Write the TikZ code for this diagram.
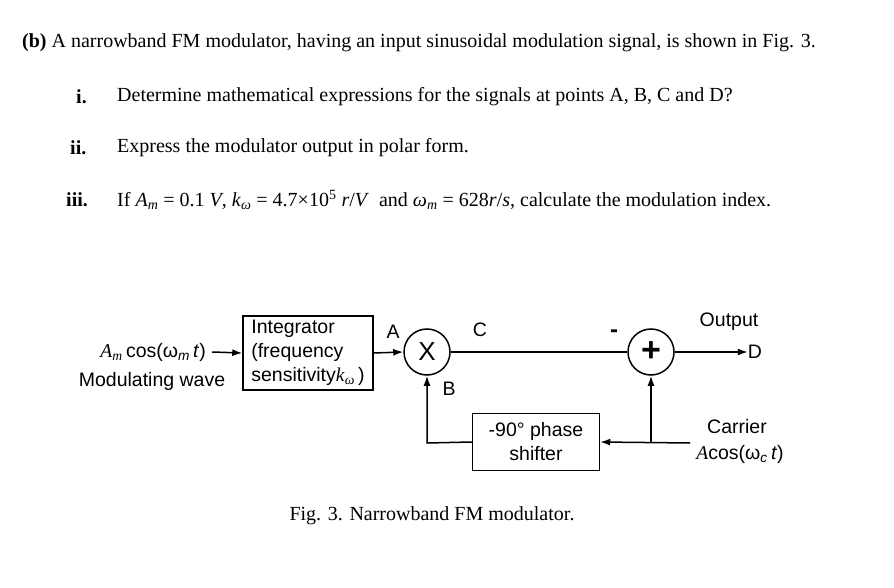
\documentclass[tikz,border=0pt]{standalone}
\usepackage{fontspec}
\setmainfont{Liberation Serif}
\newfontfamily\dsans{Liberation Sans}
\newfontfamily\dserif{Liberation Serif}
\newcommand{\ii}[1]{\textit{#1}}
\newcommand{\sbs}[1]{\textsubscript{\textit{#1}}}
\usetikzlibrary{arrows.meta}
\begin{document}
\begin{tikzpicture}[x=1pt,y=-1pt,
  q/.style={anchor=west,font=\fontsize{20}{23}\selectfont,inner sep=0},
  d/.style={font=\dsans\fontsize{19.5}{24}\selectfont,inner sep=0},
  blk/.style={draw,line width=1.5pt},
  circ/.style={draw,circle,line width=1.5pt,minimum size=46pt,inner sep=0},
  w/.style={line width=1.5pt},
  a/.style={w,-{Latex[length=10pt,width=7pt]}}]
\useasboundingbox (0,0) rectangle (894,588);
\node[q] (h) at (22,43) {\textbf{(b)} A narrowband FM modulator, having an input sinusoidal modulation signal, is shown in Fig. 3.};
\node[q] (n1) at (76,97) {\textbf{i.}};
\node[q] (t1) at (117,97) {Determine mathematical expressions for the signals at points A, B, C and D?};
\node[q] (n2) at (70,148) {\textbf{ii.}};
\node[q] (t2) at (117,148) {Express the modulator output in polar form.};
\node[q] (n3) at (66,200) {\textbf{iii.}};
\node[q] (t3) at (117,200) {If \ii{A}\sbs{m} = 0.1 \ii{V}, \ii{k}\sbs{ω} = 4.7×10\textsuperscript{5} \ii{r}/\ii{V} \ and \ii{ω}\sbs{m} = 628\ii{r}/\ii{s}, calculate the modulation index.};
% diagram
\node[blk,d,minimum width=130pt,minimum height=74pt,align=left,inner sep=3pt] (int) at (308,353) {Integrator\\(frequency\\sensitivity{\dserif\ii{k}\sbs{ω}}\,)};
\node[d,anchor=east] (in) at (206,352) {{\dserif\ii{A}\sbs{m}}\,cos(ω\sbs{m}\,\ii{t})};
\node[d] (mw) at (152,381) {Modulating wave};
\node[circ,font=\dsans\fontsize{26}{26}\selectfont] (mul) at (427,352) {X};
\node[circ,font=\dsans\bfseries\fontsize{34}{34}\selectfont] (sum) at (651,352) {+};
\node[blk,d,minimum width=127pt,minimum height=57pt,align=center] (ps) at (536,442) {-90° phase\\shifter};
\node[d] (la) at (393,332) {A};
\node[d] (lc) at (480,330) {C};
\node[d] (lb) at (449,389) {B};
\node[d,font=\dsans\bfseries\fontsize{24}{24}\selectfont] (lm) at (614,334) {-};
\node[d] (out) at (729,322) {Output};
\node[d] (ld) at (755,352) {D};
\node[d] (car) at (737,427) {Carrier};
\node[d] (cw) at (740,454) {{\dserif\ii{A}}cos(ω\sbs{c}\,\ii{t})};
\coordinate (cs) at (690,443);
\coordinate (cj) at (651,443);
\coordinate (fb) at (427,443);
\draw[a] (in.east) ++(6,0) -- (int.west);
\draw[a] (int.east) -- (mul.west);
\draw[w] (mul.east) -- (sum.west);
\draw[a] (sum.east) -- (ld.west);
\draw[a] (cs) -- (ps.east);
\draw[a] (cj) -- (sum.south);
\draw[a] (ps.west) -- (fb) -- (mul.south);
\node[q,anchor=center] (cap) at (432,516) {Fig. 3. Narrowband FM modulator.};
\end{tikzpicture}
\end{document}
